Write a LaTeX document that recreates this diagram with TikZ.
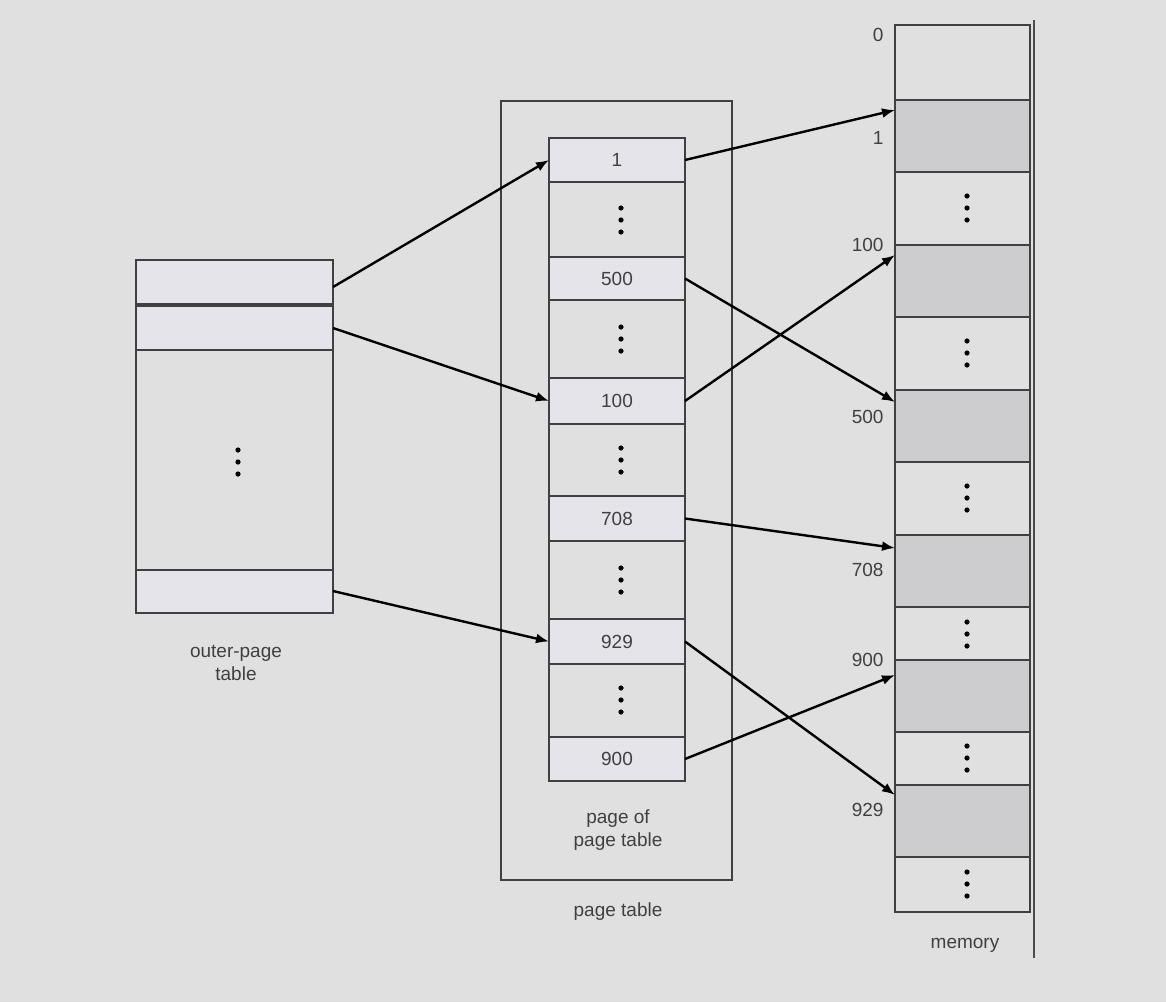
\documentclass[tikz,border=0pt]{standalone}
\usepackage{fontspec}
\setmainfont{Liberation Sans}
\usetikzlibrary{arrows.meta}
\begin{document}
\begin{tikzpicture}[x=1pt,y=-1pt,
  cell/.style={draw=black!75,fill=cellc,line width=1.5pt},
  mem/.style={draw=black!75,fill=memc,line width=1.5pt},
  lbl/.style={font=\fontsize{19}{23}\selectfont,text=black!75},
  rl/.style={lbl,anchor=east},
  arr/.style={-{Latex[length=13pt,width=10pt]},line width=2.4pt},
  vd/.pic={\foreach \k in {-12,0,12}\fill (0,\k) circle (2.6);}]
\definecolor{bgc}{HTML}{E0E0E0}
\definecolor{cellc}{HTML}{E4E4EA}
\definecolor{memc}{HTML}{CDCDD0}
\fill[bgc] (0,0) rectangle (1166,1002);
\useasboundingbox (0,0) rectangle (1166,1002);
% outer page table
\draw[line width=1.5pt,draw=black!75] (136,260) rectangle (333,613);
\draw[cell] (136,260) rectangle (333,304);
\draw[cell] (136,306) rectangle (333,350);
\draw[cell] (136,570) rectangle (333,613);
\coordinate (o1) at (333,287); \coordinate (o2) at (333,328); \coordinate (o3) at (333,591);
\pic at (238,462) {vd};
\node[lbl,align=center] (ol) at (236,663) {outer-page\\table};
% page table
\draw[line width=1.5pt,draw=black!75] (501,101) rectangle (732,880);
\node[lbl] (ptl) at (618,912) {page table};
\draw[line width=1.5pt,draw=black!75] (549,138) rectangle (685,781);
\foreach \t/\a/\b in {1/138/182,500/257/300,100/378/424,708/496/541,929/619/664,900/737/781}{
  \draw[cell] (549,\a) rectangle (685,\b);
  \node[lbl] (p\t) at (617,{(\a+\b)/2}) {\t};
  \coordinate (p\t L) at (549,{(\a+\b)/2});
  \coordinate (p\t R) at (685,{(\a+\b)/2});
}
\foreach \y in {220,339,460,580,700} \pic at (621,\y) {vd};
\node[lbl,align=center] (pop) at (618,830) {page of\\page table};
% memory
\draw[line width=1.5pt,draw=black!75] (895,25) rectangle (1030,912);
\draw[line width=1.5pt,draw=black!70] (1034,20) -- (1034,958);
\foreach \a/\n in {100/m1,245/m100,390/m500,535/m708,660/m900,785/m929}{
  \draw[mem] (895,\a) rectangle (1030,\a+72);
  \coordinate (\n) at (895,\a);
}
\foreach \y in {208,353,498,634,758,884} \pic at (967,\y) {vd};
\node[rl] at (887,35) {0};
\node[rl] at (887,138) {1};
\node[rl] at (887,245) {100};
\node[rl] at (887,417) {500};
\node[rl] at (887,570) {708};
\node[rl] at (887,660) {900};
\node[rl] at (887,810) {929};
\node[lbl] (ml) at (965,945) {memory};
% arrows
\draw[arr] (o1) -- (p1L);
\draw[arr] (o2) -- (p100L);
\draw[arr] (o3) -- (p929L);
\draw[arr] (p1R) -- ([yshift=-10]m1);
\draw[arr] (p500R) -- ([yshift=-12]m500);
\draw[arr] (p100R) -- ([yshift=-10]m100);
\draw[arr] (p708R) -- ([yshift=-13]m708);
\draw[arr] (p929R) -- ([yshift=-10]m929);
\draw[arr] (p900R) -- ([yshift=-15]m900);
\end{tikzpicture}
\end{document}
